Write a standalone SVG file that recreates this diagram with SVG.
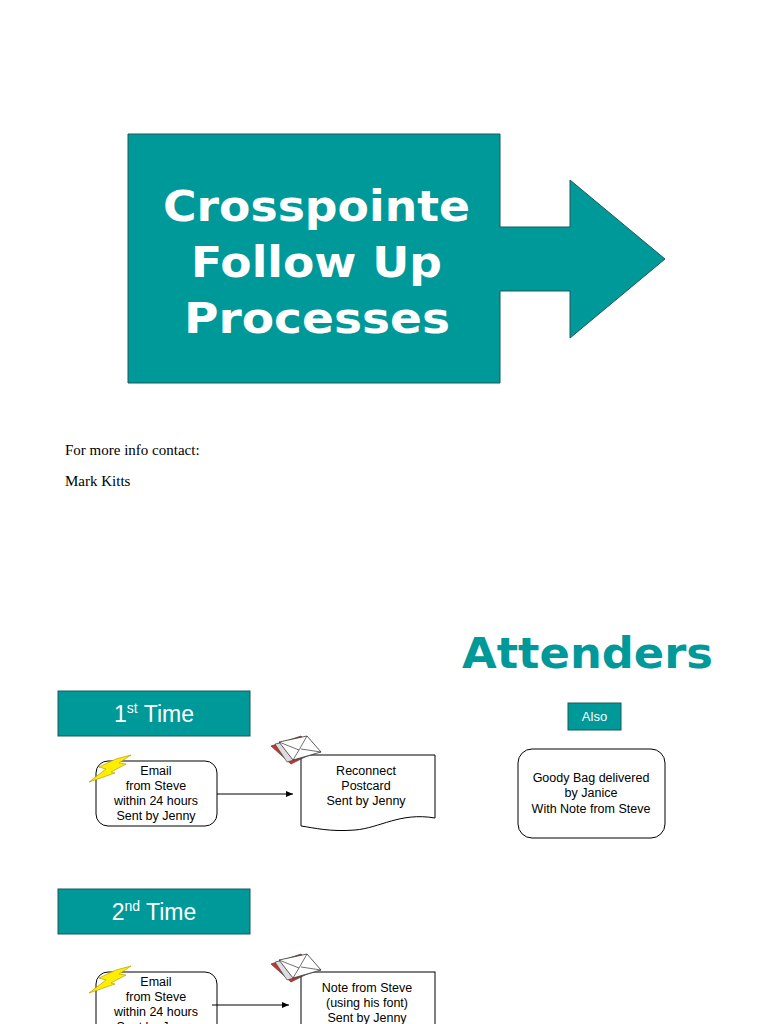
<svg xmlns="http://www.w3.org/2000/svg" width="768" height="1024" viewBox="0 0 768 1024">
<style>
.t{font-family:"Liberation Sans",Arial,sans-serif}
.big{font-family:"DejaVu Sans",Verdana,sans-serif;font-weight:bold}
.teal{fill:#009999;stroke:#1a5a5a;stroke-width:1}
.box{fill:#fff;stroke:#000;stroke-width:1}
.s{font-size:12.5px;text-anchor:middle;fill:#000}
.h{font-size:23px;fill:#fff;text-anchor:middle}
.bolt{fill:#ffee00;stroke:#b8a000;stroke-width:0.7}
</style>
<defs>
<marker id="ah" markerWidth="8" markerHeight="8" refX="7" refY="4" orient="auto" markerUnits="userSpaceOnUse"><path d="M0,1 L7,4 L0,7Z" fill="#000"/></marker>
<g id="env">
<path d="M0,10 L30,0 L44,16 L20,28 Z" fill="#c33" stroke="#333" stroke-width="0.6"/>
<path d="M4,8 L32,2 L44,18 L16,26 Z" fill="#ddd" stroke="#333" stroke-width="0.6"/>
<path d="M8,6 L36,0 L50,16 L22,24 Z" fill="#fff" stroke="#333" stroke-width="0.8"/>
<path d="M8,6 L28,14 L36,0 M22,24 L28,14 M50,16 L30,13" fill="none" stroke="#333" stroke-width="0.7"/>
</g>
<path id="bolt" d="M0,27 L17,14 L10,12 L27,4 L42,0 L30,8 L37,9 L22,17 L26,18 Z"/>
</defs>
<g id="title">
<polygon class="teal" points="128,134 500,134 500,227 570,227 570,180 665,259 570,338 570,291 500,291 500,383 128,383"/>
<text class="big" x="163" y="221" font-size="42" fill="#fff" textLength="307" lengthAdjust="spacingAndGlyphs">Crosspointe</text>
<text class="big" x="191" y="277" font-size="42" fill="#fff" textLength="251" lengthAdjust="spacingAndGlyphs">Follow Up</text>
<text class="big" x="184" y="333" font-size="42" fill="#fff" textLength="266" lengthAdjust="spacingAndGlyphs">Processes</text>
</g>
<g id="contact">
<text x="65" y="455" font-family="Liberation Serif,serif" font-size="15">For more info contact:</text>
<text x="65" y="486" font-family="Liberation Serif,serif" font-size="15">Mark Kitts</text>
</g>
<text id="attenders" class="big" x="462" y="668" font-size="42" fill="#009999" textLength="251" lengthAdjust="spacingAndGlyphs">Attenders</text>
<g id="first">
<rect class="teal" x="58" y="691" width="192" height="45"/>
<text class="t h" x="154" y="722">1<tspan font-size="14" dy="-9">st</tspan><tspan dy="9"> Time</tspan></text>
</g>
<g id="also">
<rect class="teal" x="568" y="703" width="53" height="27"/>
<text class="t" x="594.5" y="721" font-size="13" fill="#fff" text-anchor="middle">Also</text>
</g>
<g id="email1">
<rect class="box" x="96" y="761" width="121" height="65" rx="12"/>
<use href="#bolt" x="89" y="755" class="bolt"/>
<text class="t s" x="156" y="775">Email</text>
<text class="t s" x="156" y="790">from Steve</text>
<text class="t s" x="156" y="805">within 24 hours</text>
<text class="t s" x="156" y="820">Sent by Jenny</text>
</g>
<g id="postcard1">
<path class="box" d="M301,755 H435 V818 C400,812 380,828 355,830 C330,832 315,828 301,826 Z"/>
<use href="#env" x="271" y="736"/>
<text class="t s" x="366" y="775">Reconnect</text>
<text class="t s" x="366" y="790">Postcard</text>
<text class="t s" x="366" y="805">Sent by Jenny</text>
</g>
<g id="goody">
<rect class="box" x="518" y="749" width="147" height="89" rx="14"/>
<text class="t s" x="591" y="782">Goody Bag delivered</text>
<text class="t s" x="591" y="797">by Janice</text>
<text class="t s" x="591" y="813">With Note from Steve</text>
</g>
<g id="second">
<rect class="teal" x="58" y="889" width="192" height="45"/>
<text class="t h" x="154" y="920">2<tspan font-size="14" dy="-9">nd</tspan><tspan dy="9"> Time</tspan></text>
</g>
<g id="email2">
<rect class="box" x="96" y="972" width="121" height="65" rx="12"/>
<use href="#bolt" x="89" y="966" class="bolt"/>
<text class="t s" x="156" y="986">Email</text>
<text class="t s" x="156" y="1001">from Steve</text>
<text class="t s" x="156" y="1016">within 24 hours</text>
<text class="t s" x="156" y="1031">Sent by Jenny</text>
</g>
<g id="note2">
<rect class="box" x="301" y="972" width="134" height="70"/>
<use href="#env" x="271" y="954"/>
<text class="t s" x="367" y="992">Note from Steve</text>
<text class="t s" x="367" y="1007">(using his font)</text>
<text class="t s" x="367" y="1022">Sent by Jenny</text>
</g>
<g id="connectors" stroke="#000" stroke-width="1">
<line x1="217" y1="794" x2="293" y2="794" marker-end="url(#ah)"/>
<line x1="212" y1="1005" x2="289" y2="1005" marker-end="url(#ah)"/>
</g>
</svg>
